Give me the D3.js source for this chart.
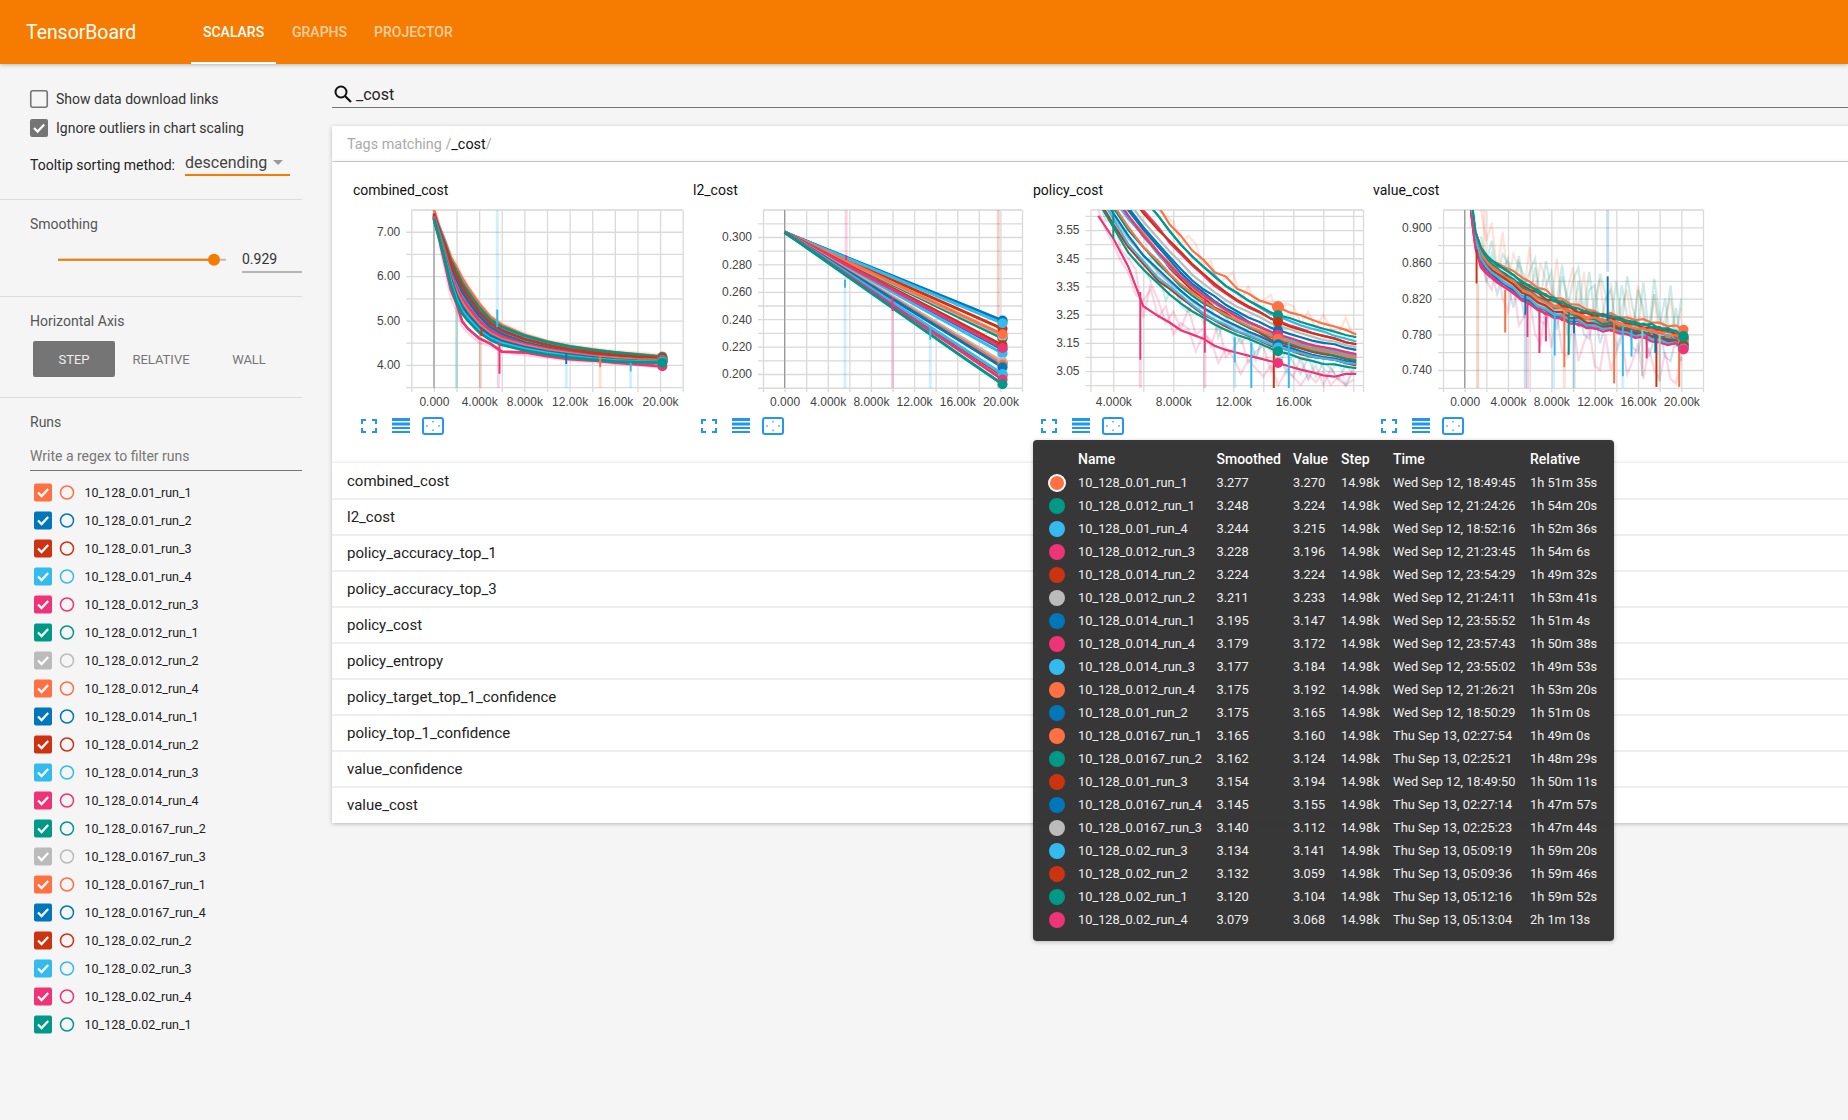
<!DOCTYPE html>
<html lang='en'>
	<head>
		<meta charset='utf-8'>
		<title>TensorBoard</title>
		<script src="https://d3js.org/d3.v7.min.js"></script>
		<style type="text/css">
			body { margin: 0; background: #f5f5f5; overflow: hidden; }
			svg { display: block; font-family: Roboto, sans-serif; }
			.tick text { font-family: "Liberation Sans", Arial, sans-serif; font-size: 12px; fill: #444; }
			.axis .domain { display: none; }
			.grid .domain { display: none; }
			.grid line { stroke: #d9d9d9; stroke-width: 1.3; }
		</style>
	</head>
	<body>
		<script type='text/javascript'>
			//Runs, same order as the sidebar
			var runNames = ['10_128_0.01_run_1','10_128_0.01_run_2','10_128_0.01_run_3','10_128_0.01_run_4',
				'10_128_0.012_run_3','10_128_0.012_run_1','10_128_0.012_run_2','10_128_0.012_run_4',
				'10_128_0.014_run_1','10_128_0.014_run_2','10_128_0.014_run_3','10_128_0.014_run_4',
				'10_128_0.0167_run_2','10_128_0.0167_run_3','10_128_0.0167_run_1','10_128_0.0167_run_4',
				'10_128_0.02_run_2','10_128_0.02_run_3','10_128_0.02_run_4','10_128_0.02_run_1'];
			var palette = ['#ff7043','#0077bb','#cc3311','#33bbee','#ee3377','#009988','#bbbbbb'];

			//combined_cost
			var combinedSteps = [0,500,1000,1500,2000,2500,3000,4000,5000,6000,8000,10000,12000,14000,16000,18000,20200];
			var combinedValues = [
				[7.5,7.1,6.78,6.42,6.2,5.95,5.75,5.38,5.08,4.9,4.68,4.53,4.42,4.35,4.28,4.24,4.19],
				[7.38,7.0,6.62,6.2,5.9,5.62,5.42,5.08,4.85,4.72,4.54,4.42,4.32,4.25,4.2,4.16,4.14],
				[7.36,6.98,6.58,6.15,5.82,5.55,5.36,5.02,4.8,4.67,4.5,4.39,4.3,4.23,4.18,4.14,4.12],
				[7.4,7.08,6.75,6.35,6.05,5.8,5.6,5.25,4.98,4.83,4.62,4.49,4.38,4.31,4.25,4.2,4.15],
				[7.42,7.02,6.66,6.25,5.98,5.72,5.52,5.18,4.92,4.76,4.56,4.43,4.33,4.26,4.21,4.17,4.14],
				[7.35,7.05,6.72,6.36,6.12,5.85,5.66,5.3,5.02,4.86,4.66,4.52,4.42,4.34,4.28,4.23,4.18],
				[7.34,6.95,6.6,6.15,5.85,5.58,5.38,5.05,4.84,4.7,4.52,4.4,4.31,4.24,4.19,4.15,4.13],
				[7.33,6.92,6.52,6.05,5.72,5.48,5.3,4.98,4.76,4.63,4.47,4.36,4.28,4.21,4.16,4.12,4.1],
				[7.37,6.97,6.6,6.22,5.92,5.64,5.44,5.1,4.85,4.7,4.51,4.39,4.3,4.23,4.18,4.14,4.12],
				[7.4,7.03,6.68,6.3,6.02,5.76,5.56,5.2,4.94,4.78,4.58,4.45,4.35,4.28,4.22,4.18,4.15],
				[7.34,6.93,6.5,6.02,5.68,5.45,5.26,4.95,4.74,4.62,4.46,4.35,4.27,4.2,4.16,4.12,4.1],
				[7.35,6.94,6.53,6.08,5.75,5.5,5.32,5.0,4.78,4.64,4.47,4.36,4.28,4.21,4.16,4.12,4.1],
				[7.33,6.9,6.46,5.98,5.62,5.36,5.18,4.88,4.68,4.56,4.42,4.32,4.24,4.18,4.14,4.11,4.09],
				[7.31,6.87,6.42,5.9,5.55,5.28,5.1,4.82,4.63,4.52,4.38,4.29,4.21,4.15,4.11,4.08,4.07],
				[7.33,6.91,6.48,6.0,5.65,5.4,5.22,4.9,4.7,4.58,4.44,4.34,4.26,4.19,4.15,4.12,4.1],
				[7.32,6.88,6.44,5.94,5.58,5.32,5.14,4.85,4.66,4.54,4.4,4.3,4.23,4.17,4.12,4.09,4.08],
				[7.3,6.85,6.38,5.85,5.45,5.2,5.04,4.76,4.59,4.48,4.35,4.26,4.19,4.13,4.09,4.07,4.06],
				[7.3,6.86,6.4,5.87,5.48,5.22,5.06,4.78,4.6,4.49,4.36,4.27,4.2,4.14,4.1,4.08,4.07],
				[7.3,6.8,6.25,5.7,5.38,4.98,4.82,4.6,4.48,4.3,4.28,4.2,4.13,4.1,4.05,4.01,3.97],
				[7.28,6.83,6.35,5.8,5.42,5.16,5.0,4.73,4.56,4.45,4.33,4.24,4.17,4.12,4.08,4.06,4.05]
			];
			//run, step, from, to
			var combinedDips = [[3,5600,5.25,4.85],[2,4200,4.85,4.65],[4,5800,4.5,3.8],[8,11700,4.25,4.02],[7,14700,4.2,3.95],[3,17400,4.05,3.85]];
			var combinedPale = [[5,2000,5.4,3.48],[2,4100,4.7,3.48],[3,5600,7.5,4.9],[4,5700,4.6,3.48],[3,11700,4.02,3.48],[7,14700,3.95,3.48],[3,17400,3.85,3.48]];
			var combinedRawSteps = [500,1000,1500,2000,2500,3000,4000,5000,6000,8000,10000,12000,14000,16000,18000,20000];
			var combinedRaw = [
				{run: 4, values: [6.7,6.1,5.5,5.2,4.85,4.72,4.5,4.42,4.3,4.22,4.16,4.1,4.06,4.02,3.99,3.94]},
				{run: 0, values: [7.15,6.85,6.5,6.28,6.02,5.8,5.42,5.12,4.94,4.72,4.56,4.46,4.38,4.32,4.28,4.24]}
			];

			//l2_cost
			var l2Steps = [0,4000,8000,12000,16000,20200];
			var l2Values = [
				[.3035,.2905,.2775,.2645,.2516,.238],
				[.3035,.2907,.2780,.2652,.2524,.239],
				[.3035,.2895,.2756,.2616,.2477,.233],
				[.3035,.2903,.2772,.2640,.2508,.237],
				[.3035,.2883,.2732,.2581,.2429,.227],
				[.3035,.2881,.2728,.2575,.2421,.226],
				[.3035,.2885,.2736,.2587,.2437,.228],
				[.3035,.2887,.2740,.2593,.2445,.229],
				[.3035,.2866,.2696,.2527,.2358,.218],
				[.3035,.2872,.2708,.2545,.2382,.221],
				[.3035,.2860,.2685,.2509,.2334,.215],
				[.3035,.2868,.2700,.2533,.2366,.219],
				[.3035,.2846,.2657,.2468,.2279,.208],
				[.3035,.2848,.2661,.2474,.2287,.209],
				[.3035,.2844,.2653,.2462,.2271,.207],
				[.3035,.2840,.2645,.2450,.2255,.205],
				[.3035,.2828,.2621,.2414,.2207,.199],
				[.3035,.2830,.2625,.2420,.2215,.200],
				[.3035,.2822,.2609,.2396,.2184,.196],
				[.3035,.2814,.2593,.2373,.2152,.1925]
			];
			var l2Dips = [[4,5700,.2865,.283],[3,5600,.269,.263],[4,10000,.256,.246],[3,13500,.235,.225]];
			var l2Pale = [[4,5700,.3197,.27],[3,5600,.263,.1898],[4,10000,.246,.1898],[3,13500,.225,.1898],[2,19800,.3197,.1898]];

			//policy_cost
			var policySteps = [3000,4000,5000,6000,7000,7750,8500,9250,10000,10750,11500,12250,13000,13750,14500,14980,15750,16500,17250,18000,18750,19500,20200];
			var policyValues = [
				[3.93,3.85,3.77,3.695,3.635,3.57,3.53,3.478,3.445,3.40,3.385,3.342,3.325,3.30,3.288,3.277,3.258,3.248,3.232,3.218,3.208,3.196,3.18],
				[3.78,3.70,3.62,3.552,3.49,3.445,3.398,3.36,3.33,3.298,3.272,3.252,3.225,3.208,3.185,3.175,3.162,3.15,3.142,3.128,3.12,3.112,3.105],
				[3.76,3.67,3.60,3.528,3.47,3.415,3.376,3.338,3.31,3.275,3.256,3.226,3.205,3.186,3.162,3.154,3.142,3.13,3.118,3.11,3.104,3.092,3.085],
				[3.9,3.81,3.73,3.66,3.6,3.545,3.5,3.455,3.42,3.39,3.35,3.325,3.3,3.275,3.252,3.244,3.228,3.212,3.2,3.19,3.175,3.165,3.155],
				[3.86,3.77,3.69,3.62,3.56,3.505,3.465,3.425,3.39,3.352,3.325,3.298,3.275,3.258,3.236,3.228,3.212,3.2,3.186,3.175,3.165,3.152,3.145],
				[3.91,3.82,3.74,3.665,3.6,3.548,3.498,3.458,3.42,3.385,3.352,3.328,3.3,3.28,3.258,3.248,3.238,3.224,3.212,3.2,3.19,3.178,3.17],
				[3.8,3.72,3.65,3.58,3.52,3.475,3.435,3.392,3.36,3.33,3.302,3.278,3.26,3.242,3.22,3.211,3.198,3.184,3.172,3.16,3.155,3.142,3.135],
				[3.77,3.69,3.6,3.54,3.472,3.432,3.385,3.348,3.315,3.29,3.265,3.24,3.22,3.205,3.182,3.175,3.162,3.155,3.14,3.13,3.124,3.112,3.105],
				[3.79,3.7,3.63,3.56,3.5,3.455,3.412,3.372,3.34,3.316,3.285,3.262,3.24,3.224,3.204,3.195,3.182,3.17,3.158,3.15,3.145,3.132,3.125],
				[3.83,3.75,3.68,3.61,3.55,3.512,3.472,3.43,3.395,3.36,3.33,3.302,3.28,3.26,3.236,3.224,3.208,3.196,3.184,3.175,3.166,3.152,3.145],
				[3.74,3.66,3.59,3.53,3.462,3.42,3.385,3.348,3.32,3.29,3.265,3.245,3.22,3.208,3.186,3.177,3.162,3.145,3.132,3.125,3.12,3.108,3.1],
				[3.75,3.68,3.6,3.53,3.47,3.425,3.385,3.352,3.32,3.295,3.268,3.242,3.225,3.206,3.19,3.179,3.168,3.155,3.142,3.135,3.128,3.118,3.11],
				[3.72,3.63,3.55,3.49,3.43,3.392,3.35,3.318,3.29,3.27,3.245,3.226,3.205,3.19,3.172,3.162,3.148,3.136,3.122,3.115,3.106,3.096,3.09],
				[3.69,3.6,3.52,3.46,3.4,3.362,3.332,3.298,3.27,3.248,3.225,3.204,3.185,3.168,3.15,3.14,3.128,3.116,3.105,3.1,3.09,3.08,3.075],
				[3.73,3.64,3.56,3.49,3.44,3.395,3.358,3.328,3.3,3.272,3.25,3.23,3.21,3.194,3.175,3.165,3.154,3.14,3.128,3.12,3.114,3.102,3.095],
				[3.7,3.61,3.53,3.46,3.41,3.372,3.335,3.302,3.275,3.25,3.228,3.21,3.19,3.174,3.155,3.145,3.134,3.12,3.108,3.1,3.094,3.085,3.08],
				[3.66,3.57,3.49,3.43,3.37,3.342,3.31,3.28,3.25,3.23,3.208,3.19,3.175,3.158,3.14,3.132,3.124,3.11,3.1,3.095,3.09,3.078,3.07],
				[3.68,3.59,3.5,3.44,3.38,3.35,3.318,3.285,3.255,3.232,3.214,3.192,3.178,3.16,3.144,3.134,3.122,3.114,3.102,3.095,3.09,3.08,3.075],
				[3.6,3.52,3.42,3.28,3.245,3.222,3.195,3.18,3.165,3.14,3.125,3.115,3.105,3.095,3.085,3.079,3.066,3.055,3.046,3.035,3.03,3.04,3.04],
				[3.65,3.56,3.47,3.41,3.36,3.322,3.29,3.262,3.24,3.215,3.196,3.178,3.165,3.148,3.13,3.12,3.11,3.095,3.086,3.075,3.074,3.066,3.06]
			];
			var policyDips = [[19,4000,3.62,3.52],[18,5800,3.33,3.09],[18,10100,3.31,3.115],[3,12100,3.17,3.08],[3,13200,3.15,2.99],[2,14700,3.19,2.99],[3,15700,3.15,2.99]];
			var policyPale = [[18,5800,3.09,2.99],[18,10100,3.115,2.99],[3,12100,3.08,2.99]];
			var policyRawSteps = [3000,3500,4000,4500,5000,5500,6000,6500,7000,7500,8000,8500,9000,9500,10000,10500,11000,11500,12000,12500,13000,13500,14000,14500,15000,15500,16000,16500,17000,17500,18000,18500,19000,19500,20000];
			var policyRaw = [
				{run: 18, values: [3.66,3.58,3.6,3.48,3.45,3.41,3.24,3.36,3.3,3.22,3.26,3.2,3.27,3.18,3.2,3.14,3.22,3.1,3.13,3.17,3.08,3.12,3.14,3.05,3.1,3.06,3.03,3.1,3.02,3.07,3.0,3.06,3.02,3.0,3.06]},
				{run: 4, values: [3.62,3.55,3.5,3.44,3.4,3.32,3.3,3.34,3.24,3.28,3.18,3.22,3.2,3.12,3.18,3.16,3.08,3.13,3.1,3.04,3.09,3.06,3.03,3.07,3.0,3.05,3.03,3.0,3.04,3.01,3.05,3.0,3.03,3.0,3.02]},
				{run: 0, values: [3.95,3.88,3.9,3.8,3.78,3.74,3.7,3.66,3.62,3.6,3.58,3.5,3.53,3.5,3.42,3.44,3.36,3.38,3.4,3.3,3.35,3.29,3.3,3.32,3.24,3.29,3.28,3.22,3.26,3.2,3.25,3.2,3.18,3.24,3.17]},
				{run: 5, values: [3.72,3.64,3.6,3.52,3.5,3.46,3.42,3.37,3.4,3.3,3.36,3.28,3.26,3.31,3.22,3.28,3.17,3.24,3.2,3.15,3.18,3.1,3.16,3.14,3.07,3.12,3.08,3.04,3.1,3.03,3.08,3.06,3.02,3.07,3.04]},
				{run: 3, values: [3.8,3.74,3.68,3.62,3.58,3.5,3.54,3.44,3.4,3.42,3.34,3.3,3.36,3.26,3.28,3.3,3.2,3.26,3.16,3.22,3.18,3.08,3.2,3.12,3.14,3.04,3.12,3.08,3.02,3.1,3.06,3.04,3.1,3.0,3.05]}
			];

			//value_cost
			var valueSteps = [600,800,1000,1500,2000,2500,3000,3750,4500,5250,6000,6750,7500,8250,9000,9750,10500,11250,12000,12750,13500,14250,15000,15750,16500,17250,18000,18750,19500,20200];
			var valueValues = [
				[.925,.91,.895,.878,.869,.862,.86,.855,.851,.844,.839,.832,.83,.821,.82,.814,.813,.808,.806,.801,.804,.799,.799,.796,.797,.793,.793,.789,.79,.785],
				[.922,.905,.888,.868,.858,.853,.846,.84,.834,.827,.82,.816,.809,.806,.8,.803,.796,.793,.795,.79,.798,.787,.789,.786,.784,.783,.778,.779,.774,.77],
				[.92,.9,.884,.862,.855,.848,.846,.838,.836,.827,.824,.817,.814,.808,.81,.802,.803,.797,.798,.793,.794,.788,.79,.784,.786,.779,.782,.776,.778,.773],
				[.93,.912,.89,.87,.861,.855,.848,.843,.835,.831,.824,.82,.813,.81,.804,.803,.797,.798,.794,.797,.791,.79,.786,.787,.782,.784,.778,.78,.775,.772],
				[.918,.898,.88,.858,.853,.848,.842,.837,.829,.822,.817,.81,.807,.801,.803,.796,.797,.791,.794,.787,.79,.784,.787,.781,.783,.776,.78,.772,.776,.767],
				[.93,.912,.893,.876,.868,.863,.857,.853,.846,.84,.833,.83,.823,.821,.814,.812,.805,.806,.801,.803,.799,.799,.795,.794,.79,.792,.786,.787,.783,.778],
				[.92,.902,.886,.868,.86,.854,.848,.843,.835,.829,.823,.818,.813,.807,.807,.8,.802,.794,.796,.79,.793,.787,.789,.782,.785,.78,.779,.777,.774,.77],
				[.924,.906,.889,.872,.863,.857,.853,.846,.841,.833,.83,.822,.82,.812,.813,.806,.805,.799,.8,.796,.797,.793,.791,.79,.787,.786,.782,.783,.779,.775],
				[.926,.908,.89,.866,.858,.851,.846,.839,.832,.824,.819,.81,.808,.804,.802,.798,.795,.792,.793,.788,.794,.79,.785,.786,.78,.782,.776,.778,.772,.768],
				[.921,.901,.884,.869,.862,.856,.852,.848,.84,.836,.83,.827,.819,.818,.812,.81,.804,.804,.8,.802,.797,.797,.792,.792,.787,.788,.784,.785,.78,.776],
				[.928,.91,.889,.867,.857,.85,.847,.84,.833,.825,.822,.813,.81,.804,.805,.797,.799,.792,.794,.788,.791,.785,.786,.781,.782,.778,.775,.777,.771,.769],
				[.917,.896,.878,.856,.85,.846,.84,.835,.826,.82,.814,.809,.802,.803,.796,.796,.79,.79,.786,.788,.784,.785,.78,.781,.776,.778,.772,.774,.769,.764],
				[.927,.909,.891,.873,.865,.859,.854,.847,.842,.833,.828,.821,.818,.81,.81,.803,.8,.797,.797,.791,.793,.787,.787,.783,.783,.778,.778,.774,.774,.767],
				[.923,.904,.887,.868,.859,.852,.848,.84,.834,.826,.822,.814,.81,.805,.802,.797,.797,.79,.792,.786,.788,.783,.783,.779,.78,.775,.773,.772,.769,.766],
				[.924,.907,.888,.871,.862,.856,.852,.844,.84,.83,.827,.82,.816,.811,.809,.804,.803,.797,.799,.794,.796,.79,.79,.786,.787,.782,.783,.778,.779,.774],
				[.921,.903,.885,.864,.854,.848,.843,.836,.83,.822,.818,.81,.807,.8,.801,.795,.795,.79,.79,.786,.789,.785,.783,.78,.78,.776,.775,.772,.772,.765],
				[.919,.9,.882,.866,.858,.852,.848,.842,.836,.827,.823,.816,.812,.805,.805,.798,.799,.793,.792,.788,.79,.786,.785,.782,.78,.778,.775,.774,.772,.768],
				[.925,.906,.886,.865,.856,.849,.845,.837,.832,.822,.82,.811,.808,.802,.801,.796,.796,.79,.79,.786,.787,.783,.782,.778,.78,.775,.774,.77,.771,.764],
				[.916,.895,.876,.855,.848,.843,.838,.832,.826,.818,.814,.807,.804,.798,.798,.792,.792,.787,.787,.783,.785,.781,.78,.776,.777,.772,.771,.768,.77,.763],
				[.932,.915,.895,.877,.869,.863,.859,.852,.847,.838,.835,.827,.825,.817,.817,.811,.809,.805,.804,.8,.801,.796,.795,.791,.792,.788,.788,.783,.784,.777]
			];
			var valueDips = [[2,1100,.875,.837],[0,3740,.83,.782],[1,5600,.825,.802],[4,5800,.815,.777],[4,6900,.81,.759],[3,8300,.805,.756],[4,7500,.8,.772],[7,9200,.805,.743],[5,9600,.805,.757],[1,10100,.8,.781],[0,13800,.795,.725],[3,14600,.79,.733],[1,13200,.845,.795],[6,16400,.785,.733],[2,17700,.78,.721],[1,17600,.78,.759],[6,18000,.78,.727],[0,19800,.78,.721],[4,16800,.78,.753],[3,15400,.785,.755]];
			var valuePale = [[2,1200,.837,.7198],[0,1800,.9194,.86],[1,5600,.802,.7198],[4,5800,.777,.7198],[3,8200,.756,.7198],[1,13200,.9194,.85],[3,14600,.733,.7198],[7,9200,.743,.7198],[1,10100,.781,.7198]];
			var valueRawSteps = [1500,2000,2500,3000,3500,4000,4500,5000,5500,6000,6500,7000,7500,8000,8500,9000,9500,10000,10500,11000,11500,12000,12500,13000,13500,14000,14500,15000,15500,16000,16500,17000,17500,18000,18500,19000,19500,20000];
			var valueRaw = [
				{run: 1, values: [.865,.84,.85,.825,.845,.835,.81,.84,.8,.82,.835,.795,.79,.825,.785,.82,.78,.8,.815,.78,.775,.805,.77,.79,.8,.765,.78,.795,.765,.76,.79,.755,.775,.785,.755,.75,.775,.75]},
				{run: 4, values: [.88,.84,.83,.86,.82,.805,.84,.79,.8,.82,.78,.77,.81,.765,.805,.76,.755,.795,.75,.77,.785,.745,.74,.78,.74,.76,.775,.735,.75,.77,.73,.765,.74,.73,.76,.73,.725,.755]},
				{run: 0, values: [.92,.885,.905,.85,.895,.84,.87,.855,.83,.878,.82,.86,.84,.812,.865,.805,.83,.855,.8,.85,.79,.82,.842,.785,.838,.782,.81,.83,.78,.835,.8,.775,.825,.772,.8,.82,.765,.81]},
				{run: 5, values: [.875,.86,.885,.845,.87,.86,.835,.868,.83,.85,.865,.82,.862,.83,.815,.858,.81,.84,.855,.805,.85,.8,.848,.825,.795,.84,.79,.845,.81,.788,.838,.782,.842,.8,.785,.835,.778,.82]},
				{run: 19, values: [.89,.855,.87,.84,.85,.865,.825,.86,.845,.815,.855,.81,.835,.85,.8,.845,.82,.795,.84,.79,.83,.835,.785,.82,.83,.78,.835,.8,.775,.83,.81,.77,.825,.79,.82,.77,.81,.765]}
			];

			//Axes
			var fullGridSteps = [-2000,0,2000,4000,6000,8000,10000,12000,14000,16000,18000,20000,22000];
			var fullTickSteps = [0,4000,8000,12000,16000,20000];
			var fullTickLabels = ['0.000','4.000k','8.000k','12.00k','16.00k','20.00k'];
			var policyGridSteps = [2480,4000,6000,8000,10000,12000,14000,16000,18000,20000,20647];
			var policyTickSteps = [4000,8000,12000,16000];
			var policyTickLabels = ['4.000k','8.000k','12.00k','16.00k'];
			var combinedYGrid = [3.5,4,4.5,5,5.5,6,6.5,7];
			var combinedYTicks = [4,5,6,7];
			var combinedYLabels = ['4.00','5.00','6.00','7.00'];
			var l2YGrid = [.19,.2,.21,.22,.23,.24,.25,.26,.27,.28,.29,.3,.31];
			var l2YTicks = [.2,.22,.24,.26,.28,.3];
			var l2YLabels = ['0.200','0.220','0.240','0.260','0.280','0.300'];
			var policyYGrid = [3,3.05,3.1,3.15,3.2,3.25,3.3,3.35,3.4,3.45,3.5,3.55,3.6];
			var policyYTicks = [3.05,3.15,3.25,3.35,3.45,3.55];
			var policyYLabels = ['3.05','3.15','3.25','3.35','3.45','3.55'];
			var valueYGrid = [.72,.74,.76,.78,.8,.82,.84,.86,.88,.9];
			var valueYTicks = [.74,.78,.82,.86,.9];
			var valueYLabels = ['0.740','0.780','0.820','0.860','0.900'];

			//Tooltip table
			var tipNames = ['10_128_0.01_run_1','10_128_0.012_run_1','10_128_0.01_run_4','10_128_0.012_run_3','10_128_0.014_run_2','10_128_0.012_run_2','10_128_0.014_run_1','10_128_0.014_run_4','10_128_0.014_run_3','10_128_0.012_run_4','10_128_0.01_run_2','10_128_0.0167_run_1','10_128_0.0167_run_2','10_128_0.01_run_3','10_128_0.0167_run_4','10_128_0.0167_run_3','10_128_0.02_run_3','10_128_0.02_run_2','10_128_0.02_run_1','10_128_0.02_run_4'];
			var tipSmoothed = ['3.277','3.248','3.244','3.228','3.224','3.211','3.195','3.179','3.177','3.175','3.175','3.165','3.162','3.154','3.145','3.140','3.134','3.132','3.120','3.079'];
			var tipValue = ['3.270','3.224','3.215','3.196','3.224','3.233','3.147','3.172','3.184','3.192','3.165','3.160','3.124','3.194','3.155','3.112','3.141','3.059','3.104','3.068'];
			var tipTime = ['Wed Sep 12, 18:49:45','Wed Sep 12, 21:24:26','Wed Sep 12, 18:52:16','Wed Sep 12, 21:23:45','Wed Sep 12, 23:54:29','Wed Sep 12, 21:24:11','Wed Sep 12, 23:55:52','Wed Sep 12, 23:57:43','Wed Sep 12, 23:55:02','Wed Sep 12, 21:26:21','Wed Sep 12, 18:50:29','Thu Sep 13, 02:27:54','Thu Sep 13, 02:25:21','Wed Sep 12, 18:49:50','Thu Sep 13, 02:27:14','Thu Sep 13, 02:25:23','Thu Sep 13, 05:09:19','Thu Sep 13, 05:09:36','Thu Sep 13, 05:12:16','Thu Sep 13, 05:13:04'];
			var tipRelative = ['1h 51m 35s','1h 54m 20s','1h 52m 36s','1h 54m 6s','1h 49m 32s','1h 53m 41s','1h 51m 4s','1h 50m 38s','1h 49m 53s','1h 53m 20s','1h 51m 0s','1h 49m 0s','1h 48m 29s','1h 50m 11s','1h 47m 57s','1h 47m 44s','1h 59m 20s','1h 59m 46s','1h 59m 52s','2h 1m 13s'];
			var tagRows = ['combined_cost','l2_cost','policy_accuracy_top_1','policy_accuracy_top_3','policy_cost','policy_entropy','policy_target_top_1_confidence','policy_top_1_confidence','value_confidence','value_cost'];

			var orange = '#f57c00';
			var colorOf = function(i) { return palette[i % 7]; };

			var svg = d3.select('body').append('svg').attr('width', 1848).attr('height', 1120);
			var defs = svg.append('defs');
			var shadow = defs.append('filter').attr('id', 'shadow').attr('x', '-5%').attr('y', '-20%').attr('width', '110%').attr('height', '140%');
			shadow.append('feDropShadow').attr('dx', 0).attr('dy', 1).attr('stdDeviation', 2).attr('flood-color', '#000').attr('flood-opacity', .25);

			function label(g, x, y, str, size, fill, weight) {
				return g.append('text').attr('x', x).attr('y', y).attr('dy', '.35em')
					.attr('font-size', size).attr('fill', fill).attr('font-weight', weight || 400).text(str);
			}
			function hline(g, x1, x2, y, color, w) {
				g.append('line').attr('x1', x1).attr('x2', x2).attr('y1', y).attr('y2', y).attr('stroke', color).attr('stroke-width', w || 1);
			}
			function checkbox(g, x, y, fill) {
				g.append('rect').attr('x', x).attr('y', y).attr('width', 18).attr('height', 18).attr('rx', 2).attr('fill', fill);
				g.append('path').attr('d', 'M' + (x + 4) + ' ' + (y + 9) + 'l3.6 3.6l6.6 -7').attr('fill', 'none').attr('stroke', '#fff').attr('stroke-width', 2.2);
			}

			//Main cards
			var main = svg.append('g');
			main.append('rect').attr('x', 332).attr('y', 126).attr('width', 1530).attr('height', 35).attr('fill', '#fff').attr('filter', 'url(#shadow)');
			main.append('rect').attr('x', 332).attr('y', 162).attr('width', 1530).attr('height', 301).attr('fill', '#fff').attr('filter', 'url(#shadow)');
			main.append('rect').attr('x', 332).attr('y', 463).attr('width', 1530).attr('height', 360).attr('fill', '#fff').attr('filter', 'url(#shadow)');
			var tagMatch = label(main, 347, 144, 'Tags matching /', 14.4, '#aaa');
			tagMatch.append('tspan').attr('fill', '#111').text('_cost');
			tagMatch.append('tspan').attr('fill', '#aaa').text('/');
			tagRows.forEach(function(t, i) {
				label(main, 347, 481 + i * 36, t, 15, '#222');
				if (i > 0) hline(main, 332, 1848, 463 + i * 36, '#ddd');
			});

			//Search
			main.append('circle').attr('cx', 341).attr('cy', 92).attr('r', 5.5).attr('fill', 'none').attr('stroke', '#111').attr('stroke-width', 2);
			main.append('line').attr('x1', 345).attr('y1', 96).attr('x2', 351).attr('y2', 102).attr('stroke', '#111').attr('stroke-width', 2.2);
			label(main, 356, 94, '_cost', 16, '#222');
			hline(main, 332, 1848, 107.5, '#757575');

			//Chart panels
			function drawPanel(p) {
				var g = svg.append('g');
				var x = d3.scaleLinear().domain(p.xDomain).range(p.xRange);
				var y = d3.scaleLinear().domain(p.yDomain).range([388, 210]);
				label(g, p.titleX, 190.5, p.title, 14, '#111');

				g.append('g').attr('class', 'grid').attr('transform', 'translate(0,392)')
					.call(d3.axisBottom(x).tickValues(p.gridX).tickSizeInner(-182).tickSizeOuter(0).tickFormat(''));
				g.append('g').attr('class', 'grid').attr('transform', 'translate(' + (p.xRange[0] - 5) + ',0)')
					.call(d3.axisLeft(y).tickValues(p.gridY).tickSizeInner(-(p.xRange[1] - p.xRange[0] + 5)).tickSizeOuter(0).tickFormat(''));
				hline(g, p.xRange[0], p.xRange[1], 210, '#e0e0e0', 2);
				if (p.xDomain[0] < 0) {
					g.append('line').attr('x1', x(0)).attr('x2', x(0)).attr('y1', 210).attr('y2', 388).attr('stroke', '#999').attr('stroke-width', 1.2);
				}
				g.append('g').attr('class', 'axis').attr('transform', 'translate(0,392)')
					.call(d3.axisBottom(x).tickValues(p.tickX).tickSize(0).tickPadding(5).tickFormat(function(d, i) { return p.labelsX[i]; }));
				g.append('g').attr('class', 'axis').attr('transform', 'translate(' + (p.xRange[0] - 11) + ',0)')
					.call(d3.axisLeft(y).tickValues(p.tickY).tickSize(0).tickPadding(0).tickFormat(function(d, i) { return p.labelsY[i]; }));

				var clipId = 'clip-' + p.title;
				defs.append('clipPath').attr('id', clipId).append('rect')
					.attr('x', p.xRange[0]).attr('y', 210).attr('width', p.xRange[1] - p.xRange[0]).attr('height', 178);
				var plot = g.append('g').attr('clip-path', 'url(#' + clipId + ')');
				var line = d3.line().x(function(d) { return x(d[0]); }).y(function(d) { return y(d[1]); });

				//pale raw traces below the smoothed lines
				(p.raw || []).forEach(function(r) {
					plot.append('path').attr('d', line(p.rawSteps.map(function(s, i) { return [s, r.values[i]]; })))
						.attr('fill', 'none').attr('stroke', colorOf(r.run)).attr('stroke-opacity', .2).attr('stroke-width', 2.2);
				});
				p.pale.forEach(function(d) {
					plot.append('path').attr('d', line([[d[1], d[2]], [d[1], d[3]]]))
						.attr('fill', 'none').attr('stroke', colorOf(d[0])).attr('stroke-opacity', .22).attr('stroke-width', 3);
				});
				p.values.forEach(function(vals, i) {
					plot.append('path').attr('d', line(p.steps.map(function(s, j) { return [s, vals[j]]; })))
						.attr('fill', 'none').attr('stroke', colorOf(i)).attr('stroke-width', p.lineWidth);
				});
				p.dips.forEach(function(d) {
					plot.append('path').attr('d', line([[d[1], d[2]], [d[1], d[3]]]))
						.attr('fill', 'none').attr('stroke', colorOf(d[0])).attr('stroke-width', 2);
				});
				//hover dots
				var k = p.steps.indexOf(p.hoverStep);
				p.values.forEach(function(vals, i) {
					g.append('circle').attr('cx', x(p.hoverStep)).attr('cy', y(vals[k]))
						.attr('r', (p.hoverStep === 14980 && i === 0) ? 6 : 5).attr('fill', colorOf(i));
				});

				//Buttons under the chart
				var ix = p.iconX, c = '#2196f3';
				var icons = g.append('g').attr('fill', 'none').attr('stroke', c).attr('stroke-width', 2);
				icons.append('path').attr('d', 'M' + (ix + 4) + ' 420H' + (ix) + 'V424M' + (ix + 10) + ' 420H' + (ix + 14) + 'V424M' + (ix) + ' 428V432H' + (ix + 4) + 'M' + (ix + 14) + ' 428V432H' + (ix + 10));
				[419.5, 424, 428, 432].forEach(function(yy, i) {
					hline(g, ix + 30, ix + 48, yy, c, i === 0 ? 3 : (i === 1 ? 3 : 2));
				});
				icons.append('rect').attr('x', ix + 61).attr('y', 418).attr('width', 20).attr('height', 16).attr('rx', 2);
				icons.append('path').attr('stroke-width', 1.2).attr('d', 'M' + (ix + 64) + ' 426h2M' + (ix + 76) + ' 426h2M' + (ix + 71) + ' 421v1.5M' + (ix + 71) + ' 429.5v1.5');
			}

			drawPanel({title: 'combined_cost', titleX: 353, iconX: 362, xDomain: [-2000,22000], xRange: [411.3,682.7], yDomain: [3.48,7.49],
				gridX: fullGridSteps, gridY: combinedYGrid, tickX: fullTickSteps, labelsX: fullTickLabels, tickY: combinedYTicks, labelsY: combinedYLabels,
				steps: combinedSteps, values: combinedValues, dips: combinedDips, pale: combinedPale, rawSteps: combinedRawSteps, raw: combinedRaw, lineWidth: 2.8, hoverStep: 20200});
			drawPanel({title: 'l2_cost', titleX: 693, iconX: 702, xDomain: [-2000,22000], xRange: [763,1022], yDomain: [.1898,.3197],
				gridX: fullGridSteps, gridY: l2YGrid, tickX: fullTickSteps, labelsX: fullTickLabels, tickY: l2YTicks, labelsY: l2YLabels,
				steps: l2Steps, values: l2Values, dips: l2Dips, pale: l2Pale, lineWidth: 3, hoverStep: 20200});
			drawPanel({title: 'policy_cost', titleX: 1033, iconX: 1042, xDomain: [2480,20647], xRange: [1090.5,1363], yDomain: [2.99,3.621],
				gridX: policyGridSteps, gridY: policyYGrid, tickX: policyTickSteps, labelsX: policyTickLabels, tickY: policyYTicks, labelsY: policyYLabels,
				steps: policySteps, values: policyValues, dips: policyDips, pale: policyPale, rawSteps: policyRawSteps, raw: policyRaw, lineWidth: 2.2, hoverStep: 14980});
			drawPanel({title: 'value_cost', titleX: 1373, iconX: 1382, xDomain: [-2000,22000], xRange: [1443,1703], yDomain: [.7198,.9194],
				gridX: fullGridSteps, gridY: valueYGrid, tickX: fullTickSteps, labelsX: fullTickLabels, tickY: valueYTicks, labelsY: valueYLabels,
				steps: valueSteps, values: valueValues, dips: valueDips, pale: valuePale, rawSteps: valueRawSteps, raw: valueRaw, lineWidth: 2.2, hoverStep: 20200});

			//Tooltip
			var tip = svg.append('g');
			tip.append('rect').attr('x', 1033).attr('y', 440).attr('width', 581).attr('height', 501).attr('rx', 4).attr('fill', '#333').attr('fill-opacity', .97).attr('filter', 'url(#shadow)');
			var tipCols = [1078, 1216.5, 1293, 1341, 1393, 1530];
			['Name','Smoothed','Value','Step','Time','Relative'].forEach(function(h, i) {
				label(tip, tipCols[i], 459, h, 14, '#fff', 500);
			});
			tipNames.forEach(function(n, i) {
				var yy = 483 + i * 23;
				var col = colorOf(runNames.indexOf(n));
				tip.append('circle').attr('cx', 1057).attr('cy', yy).attr('r', 8).attr('fill', col)
					.attr('stroke', i === 0 ? '#fff' : 'none').attr('stroke-width', 2);
				label(tip, tipCols[0], yy, n, 12.8, '#eee');
				label(tip, tipCols[1], yy, tipSmoothed[i], 12.8, '#eee');
				label(tip, tipCols[2], yy, tipValue[i], 12.8, '#eee');
				label(tip, tipCols[3], yy, '14.98k', 12.8, '#eee');
				label(tip, tipCols[4], yy, tipTime[i], 12.8, '#eee');
				label(tip, tipCols[5], yy, tipRelative[i], 12.8, '#eee');
			});

			//Sidebar
			var side = svg.append('g');
			side.append('rect').attr('x', 30.75).attr('y', 90.75).attr('width', 16.5).attr('height', 16.5).attr('rx', 2).attr('fill', 'none').attr('stroke', '#757575').attr('stroke-width', 1.6);
			label(side, 56, 99, 'Show data download links', 14, '#333');
			checkbox(side, 30, 119, '#757575');
			label(side, 56, 128, 'Ignore outliers in chart scaling', 14, '#333');
			label(side, 30, 165, 'Tooltip sorting method:', 14, '#222');
			label(side, 185, 162, 'descending', 16, '#444');
			side.append('path').attr('d', 'M273 160h10l-5 5z').attr('fill', '#999');
			hline(side, 185, 290, 175, orange, 2);
			hline(side, 0, 302, 199.5, '#ddd');
			label(side, 30, 224.5, 'Smoothing', 14, '#555');
			hline(side, 58, 226, 259.7, '#bbb', 2);
			hline(side, 58, 214, 259.7, orange, 2);
			side.append('circle').attr('cx', 214).attr('cy', 259.7).attr('r', 6).attr('fill', orange);
			label(side, 242, 259, '0.929', 14, '#333');
			hline(side, 242, 302, 272, '#757575');
			hline(side, 0, 302, 296.5, '#ddd');
			label(side, 30, 321.5, 'Horizontal Axis', 14, '#555');
			side.append('rect').attr('x', 33).attr('y', 341).attr('width', 82).attr('height', 36).attr('rx', 2).attr('fill', '#757575');
			label(side, 74, 359, 'STEP', 13, '#eee').attr('text-anchor', 'middle');
			label(side, 161, 359, 'RELATIVE', 13, '#757575').attr('text-anchor', 'middle');
			label(side, 249, 359, 'WALL', 13, '#757575').attr('text-anchor', 'middle');
			hline(side, 0, 302, 397.5, '#ddd');
			label(side, 30, 422.5, 'Runs', 14, '#555');
			label(side, 30, 456.5, 'Write a regex to filter runs', 14, '#777');
			hline(side, 30, 302, 470.5, '#757575');
			runNames.forEach(function(n, i) {
				var yy = 492.5 + i * 28;
				checkbox(side, 34, yy - 9, colorOf(i));
				side.append('circle').attr('cx', 67).attr('cy', yy).attr('r', 6.5).attr('fill', 'none').attr('stroke', colorOf(i)).attr('stroke-width', 1.5);
				label(side, 84.5, yy, n, 12.5, '#222');
			});

			//Header
			var head = svg.append('g');
			head.append('rect').attr('width', 1848).attr('height', 64).attr('fill', orange).attr('filter', 'url(#shadow)');
			label(head, 26, 32, 'TensorBoard', 19.4, '#fff');
			label(head, 203, 32, 'SCALARS', 14, '#fff', 500);
			label(head, 292, 32, 'GRAPHS', 14, '#fff', 500).attr('fill-opacity', .65);
			label(head, 374, 32, 'PROJECTOR', 14, '#fff', 500).attr('fill-opacity', .65);
			head.append('rect').attr('x', 191).attr('y', 62).attr('width', 85).attr('height', 2).attr('fill', '#fff');
		</script>
	</body>
</html>
